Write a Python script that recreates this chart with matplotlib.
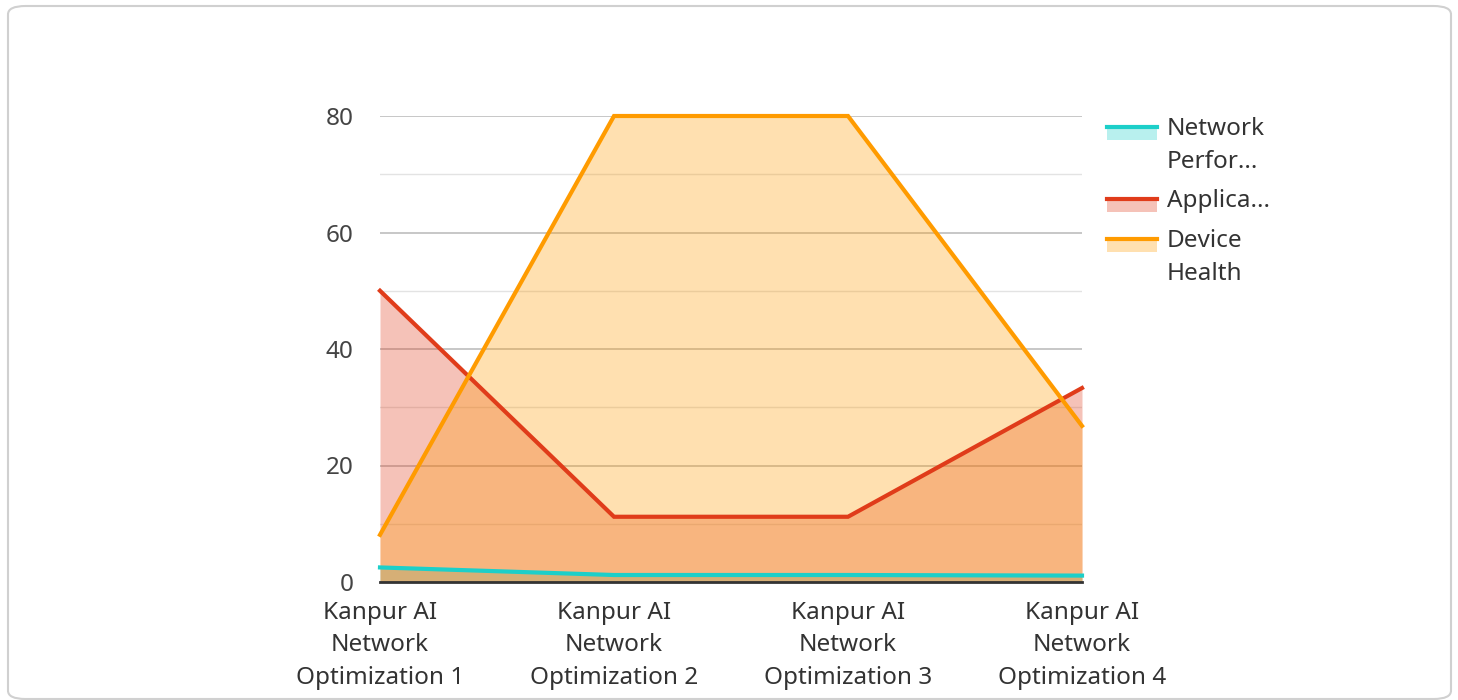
import matplotlib.pyplot as plt
from matplotlib.patches import FancyBboxPatch, Rectangle
from matplotlib.lines import Line2D

plt.rcParams['font.family'] = ['Noto Sans', 'DejaVu Sans']

# data
categories = ['Kanpur AI\nNetwork\nOptimization 1', 'Kanpur AI\nNetwork\nOptimization 2',
              'Kanpur AI\nNetwork\nOptimization 3', 'Kanpur AI\nNetwork\nOptimization 4']
network_perf = [2.5, 1.2, 1.2, 1.1]
application = [50, 11.2, 11.2, 33.3]
device_health = [8.1, 80, 80, 26.8]

series_names = ['Network\nPerfor...', 'Applica...', 'Device\nHealth']
line_colors = ['#1ccfc9', '#e03c1a', '#ff9b00']
fill_alpha = 0.31

fig = plt.figure(figsize=(14.58, 7), dpi=100)

# card background
card = FancyBboxPatch((8 / 1458, 1 - 699 / 700), 1443 / 1458, 693 / 700,
                      boxstyle='round,pad=0,rounding_size=0.012',
                      transform=fig.transFigure, facecolor='white',
                      edgecolor='#d0d0d0', linewidth=1.5, zorder=-10)
fig.patches.append(card)

ax = fig.add_axes([380 / 1458, 1 - 582 / 700, 702 / 1458, 466 / 700], zorder=2)
ax.set_facecolor('none')

x = list(range(len(categories)))
all_series = [network_perf, application, device_health]

# translucent fills, each down to zero (overlapping, not stacked)
for vals, lc in zip(all_series, line_colors):
    ax.fill_between(x, 0, vals, color=lc, alpha=fill_alpha, linewidth=0, zorder=1)

for vals, lc in zip(all_series, line_colors):
    ax.plot(x, vals, color=lc, linewidth=3, zorder=3, clip_on=False,
            solid_joinstyle='miter')

ax.set_xlim(0, 3)
ax.set_ylim(0, 80)
ax.set_yticks([0, 20, 40, 60, 80])
ax.set_yticks([10, 30, 50, 70], minor=True)
ax.set_axisbelow(True)
ax.grid(axis='y', which='major', color='#bdbdbd', linewidth=1.2)
ax.grid(axis='y', which='minor', color='#e3e3e3', linewidth=1)
ax.set_xticks(x)
ax.set_xticklabels(categories, fontsize=17.5, color='#333333', linespacing=1.48)
ax.tick_params(axis='y', which='both', length=0, labelsize=17.5, labelcolor='#444444', pad=19)
ax.tick_params(axis='x', length=0, pad=13.5)
for side in ['top', 'right', 'left']:
    ax.spines[side].set_visible(False)
ax.spines['bottom'].set_color('#333333')
ax.spines['bottom'].set_linewidth(2)
ax.spines['bottom'].set_zorder(4)

# legend drawn by hand in pixel coordinates
legend_rows = [127, 199, 239]
for name, lc, yl in zip(series_names, line_colors, legend_rows):
    fig.patches.append(Rectangle((1107 / 1458, 1 - (yl + 13) / 700), 50 / 1458, 13 / 700,
                                 transform=fig.transFigure, facecolor=lc,
                                 alpha=fill_alpha, edgecolor='none'))
    fig.lines.append(Line2D([1107 / 1458, 1157 / 1458], [1 - yl / 700, 1 - yl / 700],
                            transform=fig.transFigure, color=lc, linewidth=3))
    fig.text(1167 / 1458, 1 - (yl - 10) / 700, name, fontsize=17.5, color='#333333',
             va='top', ha='left', linespacing=1.48)

fig.savefig('out.png', dpi=100)
